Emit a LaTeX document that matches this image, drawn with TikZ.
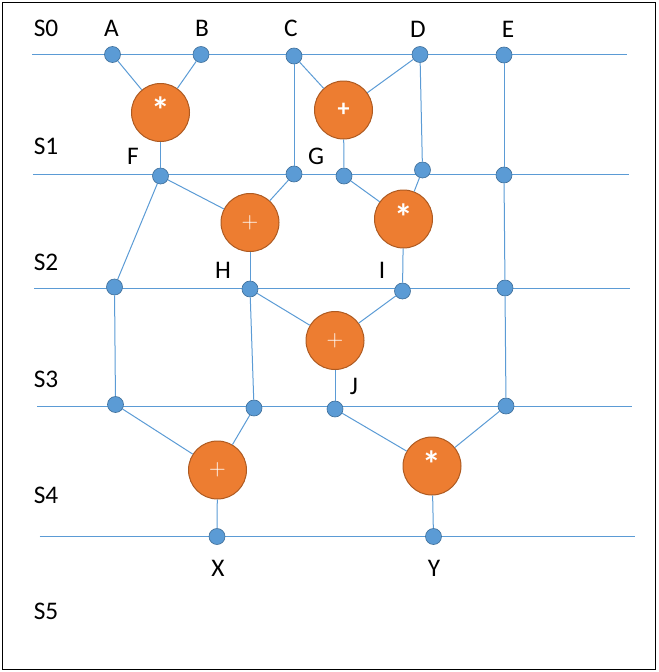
\documentclass[tikz,border=0pt]{standalone}
\usepackage{fontspec}
\setmainfont{Carlito}
\definecolor{lineblue}{RGB}{91,155,213}
\definecolor{dotblue}{RGB}{91,155,213}
\definecolor{dotedge}{RGB}{65,113,156}
\definecolor{opfill}{RGB}{237,125,49}
\definecolor{opedge}{RGB}{174,90,33}
\begin{document}
\begin{tikzpicture}[x=0.75pt,y=-0.75pt,
  level/.style={draw=lineblue, line width=0.75pt},
  link/.style={draw=lineblue, line width=0.75pt},
  dot/.style={circle, fill=dotblue, draw=dotedge, line width=0.5pt, minimum size=12pt, inner sep=0pt},
  op/.style={circle, fill=opfill, draw=opedge, line width=0.75pt, minimum size=43.5pt, inner sep=0pt, text=white},
  lbl/.style={anchor=base, inner sep=0pt, font=\fontsize{19}{21}\selectfont}]
\useasboundingbox (0,0) rectangle (659,672);
\draw[black, line width=1.1pt] (2.5,2.5) rectangle (655.5,669.5);

% level lines
\coordinate (L0a) at (32,54.5);  \coordinate (L0b) at (627,54.5);
\coordinate (L1a) at (33,174.5); \coordinate (L1b) at (629,174.5);
\coordinate (L2a) at (34,288);   \coordinate (L2b) at (630,288);
\coordinate (L3a) at (37,406.5); \coordinate (L3b) at (631.5,406.5);
\coordinate (L4a) at (39.5,536.5); \coordinate (L4b) at (634.5,536.5);
\draw[level] (L0a) -- (L0b);
\draw[level] (L1a) -- (L1b);
\draw[level] (L2a) -- (L2b);
\draw[level] (L3a) -- (L3b);
\draw[level] (L4a) -- (L4b);

% stage labels
\node[lbl] (s0) at (46,36) {S0};
\node[lbl] (s1) at (46,154) {S1};
\node[lbl] (s2) at (46,270) {S2};
\node[lbl] (s3) at (46,387) {S3};
\node[lbl] (s4) at (46,503) {S4};
\node[lbl] (s5) at (46,619) {S5};

% variable labels
\node[lbl] (tA) at (111.5,36) {A};
\node[lbl] (tB) at (202,36) {B};
\node[lbl] (tC) at (291,36) {C};
\node[lbl] (tD) at (418,37) {D};
\node[lbl] (tE) at (508,37) {E};
\node[lbl] (tF) at (133,164) {F};
\node[lbl] (tG) at (316,164) {G};
\node[lbl] (tH) at (223,278) {H};
\node[lbl] (tI) at (382,278) {I};
\node[lbl] (tJ) at (354,394) {J};
\node[lbl] (tX) at (218,576) {X};
\node[lbl] (tY) at (434,576) {Y};

% dots
\node[dot] (dA) at (112.5,54.5) {};
\node[dot] (dB) at (201,54.5) {};
\node[dot] (dC) at (294,56) {};
\node[dot] (dD) at (420,54.5) {};
\node[dot] (dE) at (504,55) {};
\node[dot] (dF) at (160.5,176) {};
\node[dot] (dG) at (294,174) {};
\node[dot] (dG2) at (344,176) {};
\node[dot] (dD2) at (422.5,170) {};
\node[dot] (dE1) at (504,175) {};
\node[dot] (dL2) at (114.5,287) {};
\node[dot] (dH) at (250,289) {};
\node[dot] (dI) at (402.5,291) {};
\node[dot] (dE2) at (505,288) {};
\node[dot] (dL3) at (115.5,404.5) {};
\node[dot] (dM3) at (254,408) {};
\node[dot] (dJ) at (335,409) {};
\node[dot] (dE3) at (506,406) {};
\node[dot] (dX) at (217,536.5) {};
\node[dot] (dY) at (433.5,536.5) {};

% operators
\node[op] (m1) at (160.5,112.5) {\raisebox{3pt}{\fontsize{28}{30}\selectfont\bfseries *}};
\node[op] (p1) at (343.5,110) {\raisebox{-2.5pt}{\fontsize{18}{20}\selectfont\bfseries +}};
\node[op] (p2) at (250,222.5) {\fontsize{18}{20}\selectfont$+$};
\node[op] (m2) at (403.5,219) {\raisebox{3pt}{\fontsize{28}{30}\selectfont\bfseries *}};
\node[op] (p3) at (335,340.5) {\fontsize{18}{20}\selectfont$+$};
\node[op] (p4) at (217.5,470) {\fontsize{18}{20}\selectfont$+$};
\node[op] (m3) at (432,466) {\raisebox{3pt}{\fontsize{28}{30}\selectfont\bfseries *}};

% connectors
\draw[link] (dA) -- (m1);
\draw[link] (dB) -- (m1);
\draw[link] (m1) -- (dF);
\draw[link] (dC) -- (p1);
\draw[link] (dD) -- (p1);
\draw[link] (p1) -- (dG2);
\draw[link] (dC) -- (dG);
\draw[link] (dD) -- (dD2);
\draw[link] (dE) -- (dE1);
\draw[link] (dE1) -- (dE2);
\draw[link] (dE2) -- (dE3);
\draw[link] (dF) -- (p2);
\draw[link] (dG) -- (p2);
\draw[link] (p2) -- (dH);
\draw[link] (dF) -- (dL2);
\draw[link] (dL2) -- (dL3);
\draw[link] (dG2) -- (m2);
\draw[link] (dD2) -- (m2);
\draw[link] (m2) -- (dI);
\draw[link] (dH) -- (p3);
\draw[link] (dI) -- (p3);
\draw[link] (p3) -- (dJ);
\draw[link] (dH) -- (dM3);
\draw[link] (dL3) -- (p4);
\draw[link] (dM3) -- (p4);
\draw[link] (p4) -- (dX);
\draw[link] (dJ) -- (m3);
\draw[link] (dE3) -- (m3);
\draw[link] (m3) -- (dY);
\end{tikzpicture}
\end{document}
